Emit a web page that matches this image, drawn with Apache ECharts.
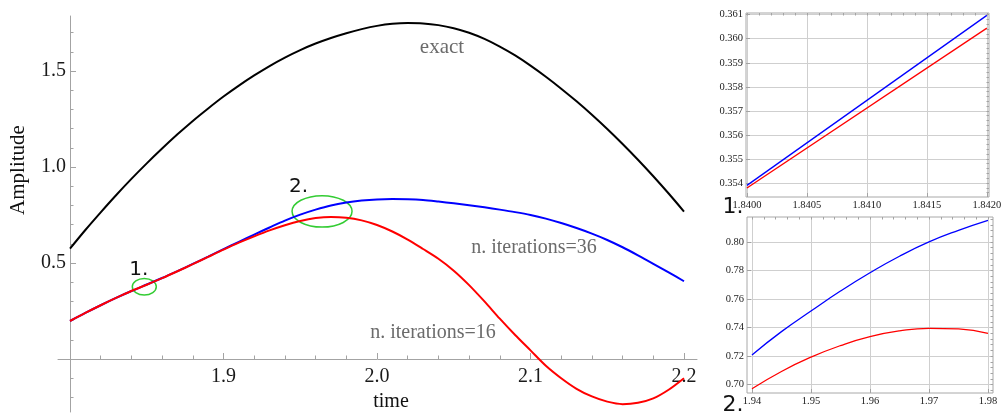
<!DOCTYPE html>
<html>
<head>
<meta charset="utf-8">
<title>Amplitude vs time</title>
<script src="https://cdn.jsdelivr.net/npm/echarts@6.0.0/dist/echarts.min.js"></script>
<style>
    html, body { margin: 0; padding: 0; background: #fff; }
    #chart { width: 1001px; height: 417px; }
</style>
</head>
<body>
<div id="chart"></div>
<script>
// main plot, read every 0.01
var time   = [1.80, 1.81, 1.82, 1.83, 1.84, 1.85, 1.86, 1.87, 1.88, 1.89,
              1.90, 1.91, 1.92, 1.93, 1.94, 1.95, 1.96, 1.97, 1.98, 1.99,
              2.00, 2.01, 2.02, 2.03, 2.04, 2.05, 2.06, 2.07, 2.08, 2.09,
              2.10, 2.11, 2.12, 2.13, 2.14, 2.15, 2.16, 2.17, 2.18, 2.19, 2.20];
var exact  = [0.575, 0.672, 0.764, 0.853, 0.938, 1.019, 1.096, 1.170, 1.240, 1.305,
              1.367, 1.424, 1.477, 1.526, 1.570, 1.609, 1.643, 1.672, 1.697, 1.718,
              1.735, 1.746, 1.750, 1.748, 1.739, 1.723, 1.699, 1.667, 1.627, 1.581,
              1.528, 1.470, 1.408, 1.342, 1.272, 1.198, 1.120, 1.038, 0.952, 0.862, 0.768];
var iter36 = [0.198, 0.240, 0.280, 0.318, 0.354, 0.388, 0.422, 0.458, 0.495, 0.533,
              0.572, 0.610, 0.648, 0.685, 0.721, 0.752, 0.778, 0.800, 0.815, 0.825,
              0.831, 0.833, 0.832, 0.828, 0.820, 0.811, 0.801, 0.790, 0.778, 0.765,
              0.750, 0.731, 0.708, 0.682, 0.653, 0.620, 0.582, 0.540, 0.496, 0.451, 0.405];
var iter16 = [0.198, 0.240, 0.280, 0.318, 0.354, 0.387, 0.421, 0.457, 0.494, 0.532,
              0.570, 0.606, 0.639, 0.670, 0.697, 0.719, 0.734, 0.740, 0.736, 0.722,
              0.698, 0.664, 0.622, 0.573, 0.522, 0.460, 0.385, 0.300, 0.210, 0.125,
              0.045, -0.035, -0.100, -0.155, -0.195, -0.222, -0.235, -0.228, -0.205, -0.160, -0.100];

// zoom 1
var zoom1Time   = [1.8400, 1.8420];
var zoom1Iter36 = [0.35390, 0.36097];
var zoom1Iter16 = [0.35379, 0.36044];

// zoom 2
var zoom2Time   = [1.940, 1.945, 1.950, 1.955, 1.960, 1.965, 1.970, 1.975, 1.980];
var zoom2Iter36 = [0.7209, 0.7372, 0.7516, 0.7656, 0.7784, 0.790, 0.800, 0.8081, 0.8151];
var zoom2Iter16 = [0.6972, 0.7093, 0.7193, 0.7274, 0.7337, 0.7377, 0.7395, 0.7391, 0.736];

// circled regions
var markTime = [1.8484, 1.9642];
var markAmp  = [0.3766, 0.769];
var markText = ['1.', '2.'];

// tick labels
var mainXTicks  = [1.9, 2.0, 2.1, 2.2];
var mainYTicks  = [0.5, 1.0, 1.5];
var zoom1XTicks = [1.8400, 1.8405, 1.8410, 1.8415, 1.8420];
var zoom1YTicks = [0.354, 0.355, 0.356, 0.357, 0.358, 0.359, 0.360, 0.361];
var zoom2XTicks = [1.94, 1.95, 1.96, 1.97, 1.98];
var zoom2YTicks = [0.70, 0.72, 0.74, 0.76, 0.78, 0.80];

function pairs(xs, ys) {
    return xs.map(function (x, i) { return [x, ys[i]]; });
}

// tick values from..to by step, leaving out the ones in skip
function steps(from, to, step, skip) {
    var out = [];
    var n = Math.round((to - from) / step);
    for (var i = 0; i <= n; i++) {
        var v = +(from + i * step).toFixed(6);
        var hit = skip.some(function (s) { return Math.abs(s - v) < step / 10; });
        if (!hit) out.push(v);
    }
    return out;
}

var AXIS_GRAY = '#a3a3a3';
var SERIF = 'Liberation Serif';

// labelled frame axis + a mirrored tick-only axis on the other side
function frameAxes(dim, grid, min, max, ticks, step, minorStep, digits) {
    var allTicks = steps(Math.ceil(min / minorStep) * minorStep, max, minorStep, []);
    var labelled = {
        type: 'value', gridIndex: grid, min: min, max: max,
        minInterval: step, maxInterval: step,
        position: dim == 'x' ? 'bottom' : 'left',
        axisLine: { show: false, onZero: false },
        axisTick: { show: true, inside: true, length: 4, customValues: ticks, lineStyle: { color: AXIS_GRAY } },
        axisLabel: {
            customValues: ticks, margin: 3,
            color: '#222', fontFamily: SERIF, fontSize: 10.5,
            formatter: function (v) { return v.toFixed(digits); }
        },
        splitLine: { show: true, lineStyle: { color: '#cfcfcf', width: 1 } }
    };
    var mirror = {
        type: 'value', gridIndex: grid, min: min, max: max,
        position: dim == 'x' ? 'top' : 'right',
        axisLine: { show: false, onZero: false },
        axisTick: { show: true, inside: true, length: 2.5, customValues: allTicks, lineStyle: { color: AXIS_GRAY } },
        axisLabel: { show: false },
        splitLine: { show: false }
    };
    return [labelled, mirror];
}

var Chart = function () {
    this.getOption = function () {
        var xMinMain = 1.79218, xMaxMain = 2.20847;
        var yMinMain = -0.276, yMaxMain = 1.7865;
        var zeroLift = -53;   // x axis sits at amplitude 0, 53px above the grid bottom

        var xAxes = [
            {
                type: 'value', gridIndex: 0, min: xMinMain, max: xMaxMain, position: 'bottom', offset: zeroLift,
                axisLine: { show: true, onZero: false, lineStyle: { color: AXIS_GRAY, width: 1 } },
                axisTick: { show: true, inside: true, length: 6, customValues: mainXTicks, lineStyle: { color: AXIS_GRAY } },
                axisLabel: {
                    customValues: mainXTicks, margin: 8, color: '#1a1a1a', fontFamily: SERIF, fontSize: 20,
                    formatter: function (v) { return v.toFixed(1); }
                },
                splitLine: { show: false }
            },
            {
                type: 'value', gridIndex: 0, min: xMinMain, max: xMaxMain, position: 'bottom', offset: zeroLift,
                axisLine: { show: false, onZero: false },
                axisTick: { show: true, inside: true, length: 3.5, customValues: steps(1.82, 2.18, 0.02, mainXTicks), lineStyle: { color: AXIS_GRAY } },
                axisLabel: { show: false },
                splitLine: { show: false }
            }
        ];
        var yAxes = [
            {
                type: 'value', gridIndex: 0, min: yMinMain, max: yMaxMain, position: 'left', offset: -12,
                axisLine: { show: true, onZero: false, lineStyle: { color: AXIS_GRAY, width: 1 } },
                axisTick: { show: true, inside: true, length: 6, customValues: mainYTicks, lineStyle: { color: AXIS_GRAY } },
                axisLabel: {
                    customValues: mainYTicks, margin: 4, color: '#1a1a1a', fontFamily: SERIF, fontSize: 20,
                    formatter: function (v) { return v.toFixed(1); }
                },
                splitLine: { show: false }
            },
            {
                type: 'value', gridIndex: 0, min: yMinMain, max: yMaxMain, position: 'left', offset: -12,
                axisLine: { show: false, onZero: false },
                axisTick: { show: true, inside: true, length: 3.5, customValues: steps(-0.2, 1.7, 0.1, [0].concat(mainYTicks)), lineStyle: { color: AXIS_GRAY } },
                axisLabel: { show: false },
                splitLine: { show: false }
            }
        ];
        xAxes = xAxes.concat(frameAxes('x', 1, 1.839992, 1.842018, zoom1XTicks, 0.0005, 0.0001, 4));
        yAxes = yAxes.concat(frameAxes('y', 1, 0.353416, 0.36107, zoom1YTicks, 0.001, 0.0002, 3));
        xAxes = xAxes.concat(frameAxes('x', 2, 1.93916, 1.98085, zoom2XTicks, 0.01, 0.002, 2));
        yAxes = yAxes.concat(frameAxes('y', 2, 0.69421, 0.81745, zoom2YTicks, 0.02, 0.004, 2));

        var frame = { show: true, borderColor: '#a8a8a8', borderWidth: 1, backgroundColor: 'transparent', outerBoundsMode: 'none' };

        return {
            animation: false,
            backgroundColor: '#fff',
            grid: [
                { left: 58, top: 16, width: 639, height: 396, outerBoundsMode: 'none' },
                extend({ left: 746, top: 13, width: 243, height: 184 }, frame),
                extend({ left: 747, top: 217, width: 246, height: 176 }, frame)
            ],
            xAxis: xAxes,
            yAxis: yAxes,
            series: [
                {
                    name: 'exact', type: 'line', xAxisIndex: 0, yAxisIndex: 0, smooth: 0.3, showSymbol: false,
                    lineStyle: { color: '#000', width: 2 }, data: pairs(time, exact)
                },
                {
                    name: 'n. iterations=36', type: 'line', xAxisIndex: 0, yAxisIndex: 0, smooth: 0.3, showSymbol: false,
                    lineStyle: { color: '#0000ff', width: 2 }, data: pairs(time, iter36)
                },
                {
                    name: 'n. iterations=16', type: 'line', xAxisIndex: 0, yAxisIndex: 0, smooth: 0.3, showSymbol: false,
                    lineStyle: { color: '#ff0000', width: 2 }, data: pairs(time, iter16)
                },
                {
                    type: 'custom', xAxisIndex: 0, yAxisIndex: 0, silent: true,
                    data: pairs(markTime, markAmp),
                    renderItem: function (params, api) {
                        var rings = [[12, 8.3], [30, 15.7]];
                        var r = rings[params.dataIndex];
                        var c = api.coord([api.value(0), api.value(1)]);
                        return {
                            type: 'group',
                            children: [
                                {
                                    type: 'ellipse',
                                    shape: { cx: c[0], cy: c[1], rx: r[0], ry: r[1] },
                                    style: { fill: 'none', stroke: '#33cc33', lineWidth: 1.5 }
                                },
                                {
                                    type: 'text',
                                    style: {
                                        x: c[0] - r[0] - 3, y: c[1] - r[1] + 1,
                                        text: markText[params.dataIndex],
                                        textAlign: 'left', textVerticalAlign: 'bottom',
                                        fill: '#111', font: '20px "DejaVu Sans"'
                                    }
                                }
                            ]
                        };
                    }
                },
                {
                    type: 'line', xAxisIndex: 2, yAxisIndex: 2, showSymbol: false,
                    lineStyle: { color: '#0000ff', width: 1.3 }, data: pairs(zoom1Time, zoom1Iter36)
                },
                {
                    type: 'line', xAxisIndex: 2, yAxisIndex: 2, showSymbol: false,
                    lineStyle: { color: '#ff0000', width: 1.3 }, data: pairs(zoom1Time, zoom1Iter16)
                },
                {
                    type: 'line', xAxisIndex: 4, yAxisIndex: 4, smooth: true, showSymbol: false,
                    lineStyle: { color: '#0000ff', width: 1.3 }, data: pairs(zoom2Time, zoom2Iter36)
                },
                {
                    type: 'line', xAxisIndex: 4, yAxisIndex: 4, smooth: true, showSymbol: false,
                    lineStyle: { color: '#ff0000', width: 1.3 }, data: pairs(zoom2Time, zoom2Iter16)
                }
            ],
            graphic: [
                { type: 'text', x: 391, y: 402, style: { text: 'time', textAlign: 'center', textVerticalAlign: 'middle', fill: '#111', font: '20px "Liberation Serif"' } },
                { type: 'text', x: 18, y: 170, rotation: Math.PI / 2, style: { text: 'Amplitude', textAlign: 'center', textVerticalAlign: 'middle', fill: '#111', font: '21px "Liberation Serif"' } },
                { type: 'text', x: 442, y: 47, style: { text: 'exact', textAlign: 'center', textVerticalAlign: 'middle', fill: '#6b6b6b', font: '21px "Liberation Serif"' } },
                { type: 'text', x: 534, y: 248, style: { text: 'n. iterations=36', textAlign: 'center', textVerticalAlign: 'middle', fill: '#6b6b6b', font: '20px "Liberation Serif"' } },
                { type: 'text', x: 433, y: 333, style: { text: 'n. iterations=16', textAlign: 'center', textVerticalAlign: 'middle', fill: '#6b6b6b', font: '20px "Liberation Serif"' } },
                { type: 'text', x: 733, y: 207, style: { text: '1.', textAlign: 'center', textVerticalAlign: 'middle', fill: '#111', font: '22px "DejaVu Sans"' } },
                { type: 'text', x: 733, y: 405, style: { text: '2.', textAlign: 'center', textVerticalAlign: 'middle', fill: '#111', font: '22px "DejaVu Sans"' } }
            ]
        };
    };

    this.chart = echarts.init(document.getElementById('chart'));
    this.chart.setOption(this.getOption());
};

function extend(a, b) {
    for (var k in b) a[k] = b[k];
    return a;
}

new Chart();
</script>
</body>
</html>
